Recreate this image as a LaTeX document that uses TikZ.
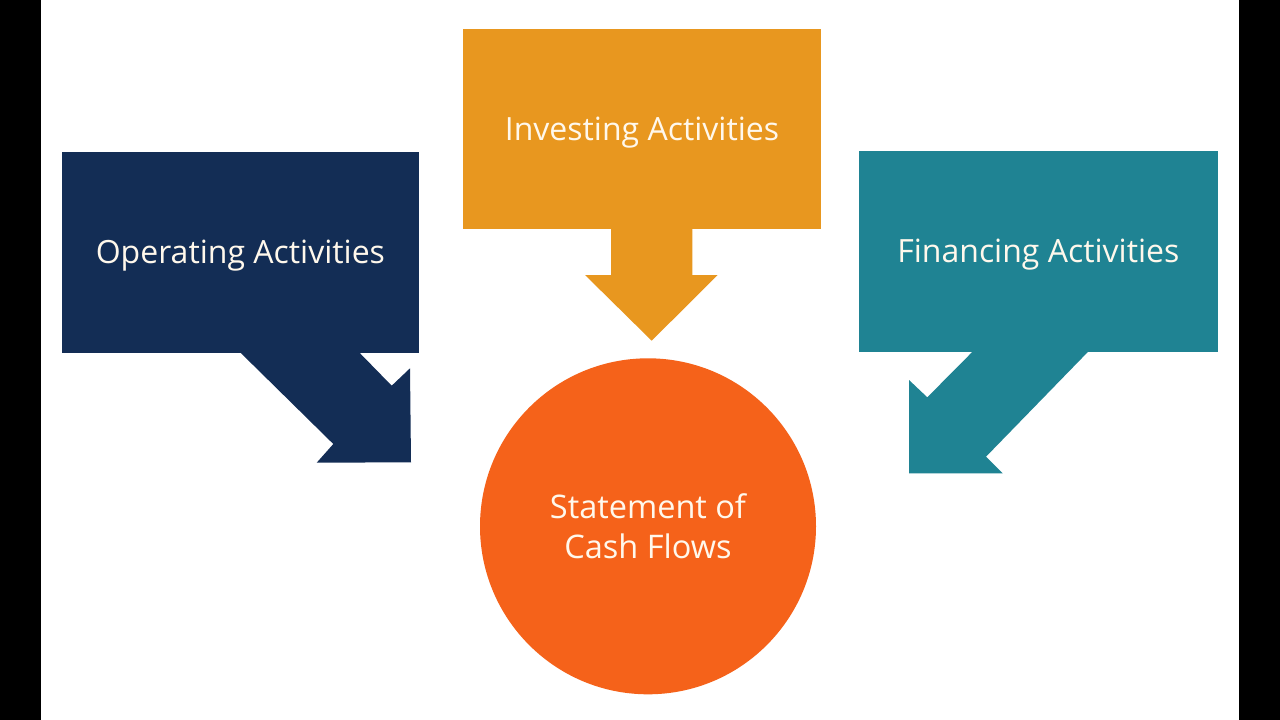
\documentclass[tikz,border=0pt]{standalone}
\usepackage{fontspec}
\setmainfont{Open Sans}
\definecolor{navy}{HTML}{132D55}
\definecolor{amber}{HTML}{E8971F}
\definecolor{teal}{HTML}{1F8393}
\definecolor{flame}{HTML}{F5621A}
\definecolor{cream}{HTML}{FFF8EC}
\tikzset{
  box/.style={rectangle, inner sep=0pt, text=cream, font=\fontsize{32}{38}\selectfont,
              text height=22.8pt, text depth=0pt}
}
\begin{document}
\begin{tikzpicture}[x=1pt,y=-1pt]
\useasboundingbox (0,0) rectangle (1280,720);
\fill[black] (0,0) rectangle (41,720);
\fill[black] (1239,0) rectangle (1280,720);
\fill[white] (41,0) rectangle (1239,720);

% Operating
\node[box, fill=navy, minimum width=357.3pt, minimum height=200.4pt] (op) at (240.4,252.5) {Operating Activities};
\fill[navy] (240,352.2) -- (333.3,444) -- (316.7,462.7) -- (411,462.3) -- (410,368.3) -- (391.7,385.7) -- (359,352.2) -- cycle;

% Investing
\node[box, fill=amber, minimum width=357.4pt, minimum height=200.3pt] (inv) at (642,129.15) {Investing Activities};
\fill[amber] (611,228.8) -- (611,275) -- (585,275) -- (651.7,340.7) -- (717.7,275) -- (692.3,275) -- (692.3,228.8) -- cycle;

% Financing
\node[box, fill=teal, minimum width=358.7pt, minimum height=201pt] (fin) at (1038.35,251.5) {Financing Activities};
\fill[teal] (972.7,351.5) -- (927.3,397.3) -- (909,380) -- (909,473.3) -- (1002.7,473.3) -- (986,456.7) -- (1088.3,351.5) -- cycle;

% Statement
\node[circle, fill=flame, minimum size=336pt, inner sep=0pt, text=cream, align=center,
      font=\fontsize{32.5}{40}\selectfont] (cf) at (648,526.3) {Statement of\\Cash Flows};
\end{tikzpicture}
\end{document}
